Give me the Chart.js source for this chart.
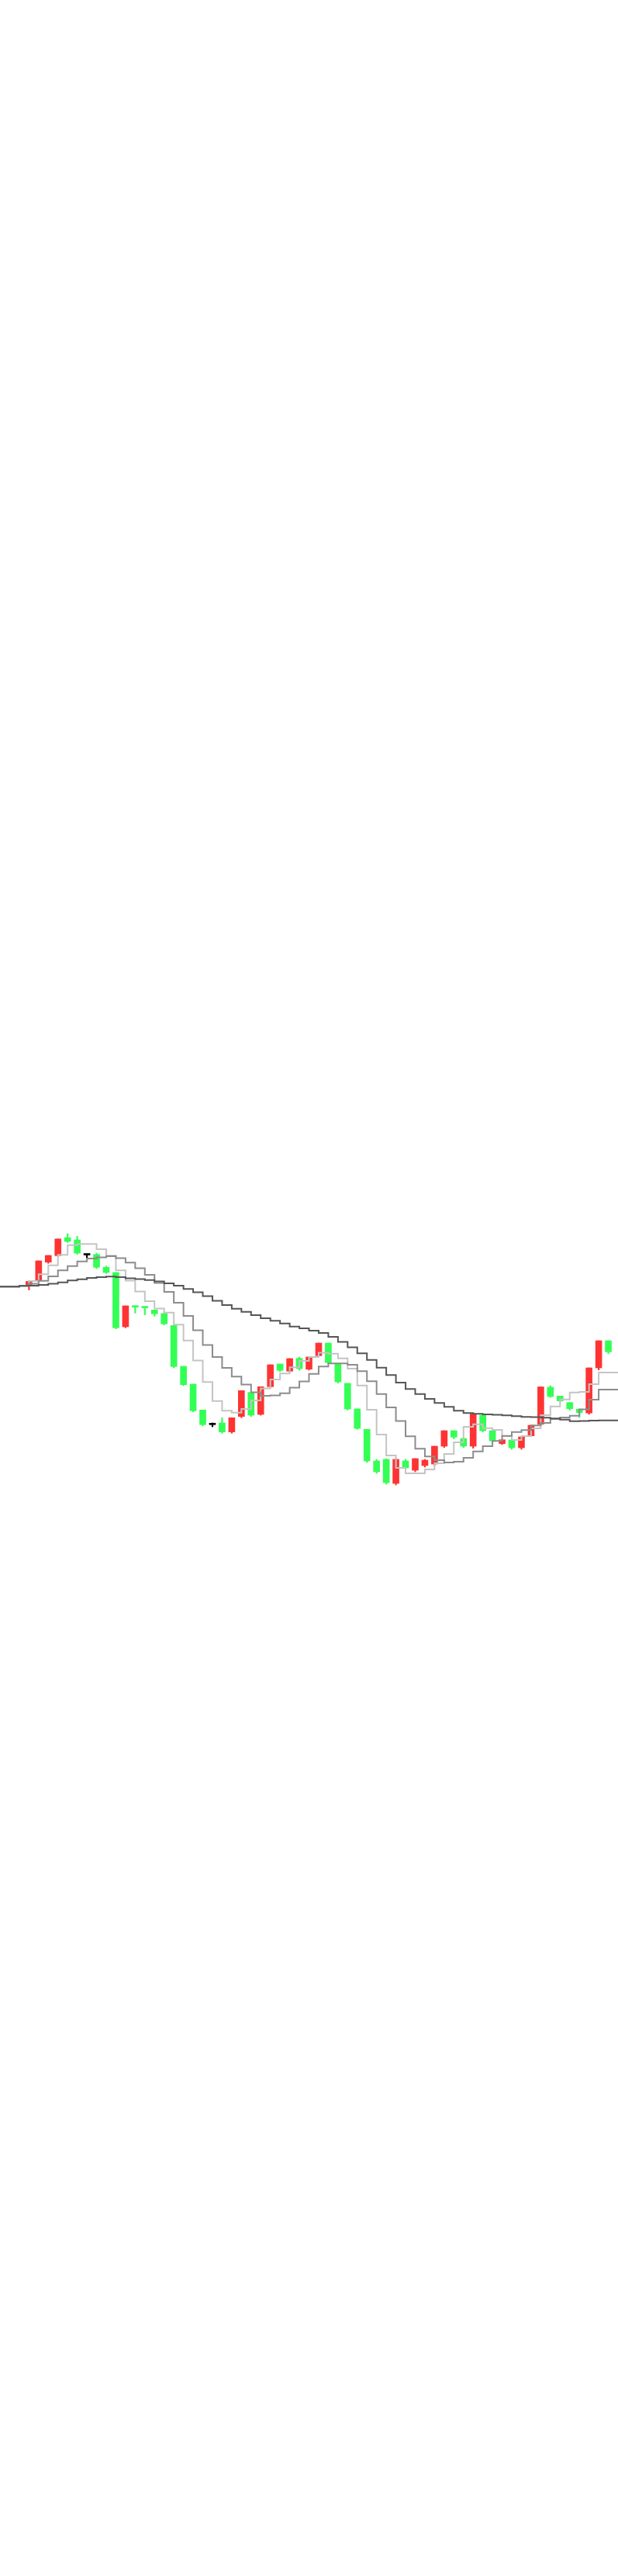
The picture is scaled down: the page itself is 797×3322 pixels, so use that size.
<!DOCTYPE html>
<html>
<head>
<meta charset="utf-8">
<title>K-line</title>
<script src="https://cdn.jsdelivr.net/npm/chart.js@4.4.0/dist/chart.umd.min.js"></script>
<style>
  html, body { margin: 0; padding: 0; background: #ffffff; }
  #wrap { position: relative; width: 797px; height: 3322px; }
</style>
</head>
<body>
<div id="wrap"><canvas id="kline"></canvas></div>
<script>
// one category per trading day, the first three days only carry the averages
const days = ['1', '2', '3', '4', '5', '6', '7', '8', '9', '10', '11', '12', '13', '14', '15', '16',
    '17', '18', '19', '20', '21', '22', '23', '24', '25', '26', '27', '28', '29', '30', '31', '32',
    '33', '34', '35', '36', '37', '38', '39', '40', '41', '42', '43', '44', '45', '46', '47', '48',
    '49', '50', '51', '52', '53', '54', '55', '56', '57', '58', '59', '60', '61', '62', '63', '64', '65'];

const opens = [null, null, null,
    1664.5, 1670.3, 1694.3, 1702.7, 1726, 1723, 1703.5, 1704.3, 1687.7, 1681, 1611, 1638, 1636.7, 1632.7,
    1628, 1612.7, 1560, 1537, 1503.7, 1484.7, 1487, 1475.3, 1495.3, 1526.3, 1498, 1533.7, 1563, 1553.7,
    1570.3, 1556.3, 1573.7, 1590, 1563, 1538, 1505, 1478.7, 1438, 1440, 1409, 1438, 1426, 1432, 1434,
    1457, 1477, 1467, 1457, 1497, 1477, 1460.3, 1465, 1455, 1470.3, 1485.3, 1533, 1521.7, 1513.3, 1504.8,
    1499.8, 1558, 1593, null];
const closes = [null, null, null,
    1669.5, 1696, 1703, 1724.3, 1721, 1706, 1703.5, 1687.7, 1681, 1609.7, 1638, 1636.3, 1635.3, 1627.7,
    1614.7, 1559.7, 1536.3, 1502.7, 1484.7, 1484.7, 1475.3, 1493.7, 1528.7, 1497, 1533.7, 1562, 1554.7, 1570,
    1557, 1572, 1590, 1564.7, 1540, 1505, 1480, 1438, 1424, 1410, 1440, 1429, 1441, 1439, 1457,
    1477, 1468.7, 1457, 1498.7, 1477, 1463.7, 1465.3, 1455, 1469, 1484, 1533.5, 1521, 1515.3, 1505.3, 1500.3,
    1558, 1593, 1578.7, null];
const highs = [null, null, null,
    1669.5, 1696, 1703, 1724.3, 1731, 1727.7, 1704, 1706, 1689.3, 1681, 1638, 1638, 1636.7, 1632.7,
    1629.3, 1612.7, 1560, 1537, 1503.7, 1487, 1493.7, 1493.7, 1528.7, 1526.3, 1533.7, 1562, 1563, 1570,
    1572, 1572, 1590, 1590, 1563, 1538, 1505, 1478.7, 1440, 1441, 1441, 1440, 1441, 1440, 1457,
    1477, 1477, 1468, 1498.7, 1497, 1477, 1465.3, 1466, 1469, 1484, 1533.5, 1535, 1521.7, 1513.3, 1504.8,
    1558, 1593, 1593, null];
const lows = [null, null, null,
    1658.5, 1670, 1692.7, 1702, 1719.7, 1704.3, 1699.7, 1686, 1679.7, 1608.3, 1609.7, 1628.7, 1626.3, 1624.7,
    1613.3, 1558.3, 1535, 1501.3, 1483.3, 1482, 1473.7, 1473.7, 1493.7, 1495.3, 1497, 1532.7, 1553.3, 1552.7,
    1555, 1555, 1572.7, 1563.7, 1538.3, 1503.7, 1478.7, 1436, 1422, 1408, 1407, 1427, 1424, 1430, 1432,
    1455.3, 1466.3, 1455.3, 1454.3, 1475.3, 1462, 1459, 1453, 1453, 1469.5, 1484, 1520, 1514.3, 1503.5, 1494,
    1498, 1555.3, 1576.2, null];

// moving averages, short / middle / long
const maShort = [1662.7, 1662.7, 1663.7, 1670, 1678.7, 1690.3, 1703.7, 1716.3, 1717.7, 1717.7, 1711, 1702.7,
    1683.7, 1670.5, 1656.5, 1644, 1634.5, 1629.3, 1613.7, 1593.3, 1567.5, 1539.8, 1515.3, 1502.7, 1500.3,
    1505, 1516, 1531.5, 1543, 1550.7, 1558.7, 1567, 1572, 1577.5, 1576.3, 1570.3, 1557, 1535.3, 1504,
    1472, 1445, 1429, 1422, 1422, 1427, 1435, 1447, 1462, 1482, 1485.3, 1480.3, 1478, 1470, 1465, 1470,
    1480, 1497, 1508.2, 1517.3, 1526.3, 1527, 1537, 1552, 1552, 1552];
const maMid = [1662.7, 1662.7, 1663.7, 1666.5, 1670.3, 1676, 1683.7, 1689.3, 1695.3, 1699, 1700.5, 1702,
    1699.5, 1693.7, 1686.5, 1678, 1667.5, 1656, 1642, 1625, 1606.5, 1587.5, 1572, 1558, 1546.7, 1536.5,
    1526.5, 1522, 1522.5, 1525.3, 1532.4, 1540.5, 1550.3, 1559.7, 1563.7, 1563.7, 1562, 1553.7, 1540.8,
    1524.2, 1507, 1489.5, 1469.8, 1453.7, 1443.7, 1439, 1436, 1437, 1442, 1450.3, 1457, 1463.7, 1470.3,
    1475.3, 1477.7, 1483.7, 1487, 1492, 1494, 1496.3, 1504.5, 1517, 1530, 1530, 1530];
const maLong = [1662.7, 1662.7, 1663.7, 1664, 1665, 1666.5, 1668.3, 1670.7, 1672.3, 1674, 1675, 1675.7,
    1675, 1673.5, 1672.5, 1671.3, 1669.5, 1667, 1664, 1659.7, 1655.5, 1650.5, 1644.5, 1639, 1634.3, 1630.3,
    1626, 1622, 1618.7, 1615.3, 1611.3, 1609, 1606, 1603, 1598, 1591.5, 1584.5, 1576.7, 1568.2, 1558.2,
    1548.7, 1539, 1530.7, 1524.3, 1518, 1512.8, 1507.8, 1502.7, 1499.7, 1498.7, 1498, 1497.5, 1496.7,
    1495.7, 1494.7, 1494.5, 1493.7, 1492.8, 1491.3, 1489.3, 1489.5, 1490, 1490.3, 1490.3, 1490.3];

const upColor = '#ff3333';
const downColor = '#33ff55';
const flatColor = '#000000';

const candleColors = opens.map(function (o, i) {
    if (o === null) return flatColor;
    if (closes[i] > o) return upColor;
    if (closes[i] < o) return downColor;
    return flatColor;
});
const bodies = opens.map(function (o, i) { return o === null ? null : [o, closes[i]]; });
const wicks = lows.map(function (l, i) { return l === null ? null : [l, highs[i]]; });

function maLine(values, color) {
    return {
        type: 'line',
        data: values,
        borderColor: color,
        borderWidth: 2,
        stepped: true,
        pointRadius: 0,
        fill: false,
        order: 0
    };
}

new Chart(document.getElementById('kline'), {
    type: 'bar',
    data: {
        labels: days,
        datasets: [
            maLine(maLong, '#555555'),
            maLine(maMid, '#8c8c8c'),
            maLine(maShort, '#c4c4c4'),
            {
                data: bodies,
                backgroundColor: candleColors,
                barThickness: 8,
                minBarLength: 2,
                grouped: false,
                order: 1
            },
            {
                data: wicks,
                backgroundColor: candleColors,
                barThickness: 1.5,
                grouped: false,
                order: 2
            }
        ]
    },
    options: {
        responsive: true,
        maintainAspectRatio: false,
        animation: false,
        layout: { padding: 0 },
        plugins: {
            legend: { display: false },
            tooltip: { enabled: false }
        },
        scales: {
            x: { display: false, offset: false },
            y: { display: false, min: 0, max: 3322 }
        }
    }
});
</script>
</body>
</html>
